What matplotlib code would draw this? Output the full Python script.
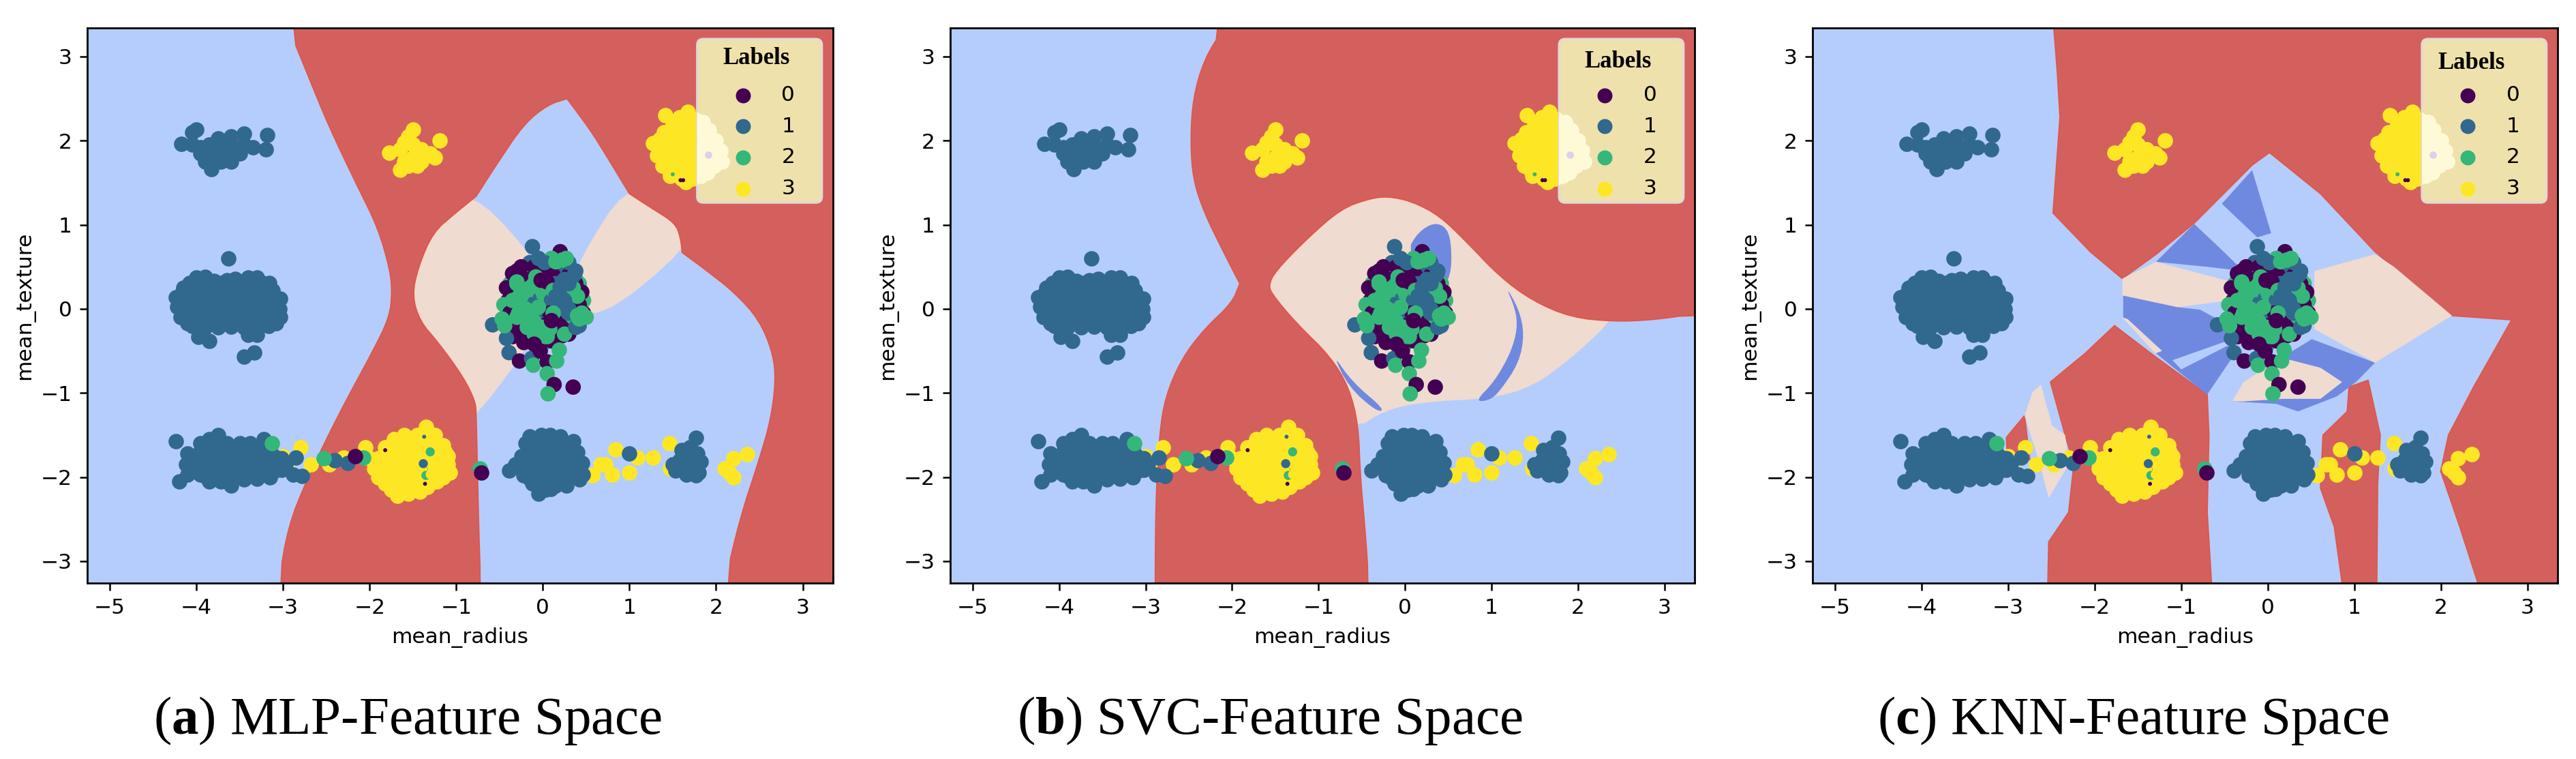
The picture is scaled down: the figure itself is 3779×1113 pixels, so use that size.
import numpy as np
import matplotlib
matplotlib.use("Agg")
import matplotlib.pyplot as plt
from matplotlib.patches import FancyBboxPatch, Polygon

plt.rcParams["mathtext.fontset"] = "custom"
plt.rcParams["mathtext.rm"] = "Liberation Serif"
plt.rcParams["mathtext.bf"] = "Liberation Serif:bold"

BLUE_BG = "#b4cdfc"
RED = "#d4605e"
RED_EDGE = "#e0574b"
CREAM = "#efdbd0"
DARK = "#7089e0"
CLASS_COLORS = ["#440154", "#31688e", "#35b779", "#fde725"]

# class 1 clusters
blue_pts = [
    (-4.05, 2.1), (-4.0, 2.13), (-4.17, 1.96), (-4.05, 1.95), (-3.95, 1.92), (-3.85, 1.95), (-3.75, 2.03),
    (-3.6, 2.05), (-3.45, 2.08), (-3.18, 2.07), (-3.2, 1.9), (-3.35, 1.92), (-3.45, 1.95), (-3.55, 1.9),
    (-3.65, 1.85), (-3.75, 1.85), (-3.85, 1.83), (-3.9, 1.75), (-3.83, 1.66), (-3.72, 1.75), (-3.6, 1.75),
    (-3.5, 1.85), (-3.7, 1.95), (-3.95, 1.85),
    # middle left blob
    (-3.63, 0.6), (-3.45, -0.57), (-3.33, -0.52), (-3.85, -0.38), (-3.98, -0.33), (-3.4, -0.31), (-3.3, -0.31),
    (-4.0, 0.37), (-3.9, 0.38), (-3.8, 0.33), (-3.65, 0.34), (-3.55, 0.36), (-3.4, 0.37), (-3.3, 0.37),
    (-4.15, 0.25), (-4.05, 0.25), (-3.9, 0.25), (-3.75, 0.25), (-3.6, 0.25), (-3.45, 0.25), (-3.3, 0.25), (-3.2, 0.25), (-3.12, 0.22),
    (-4.24, 0.14), (-4.1, 0.12), (-3.95, 0.12), (-3.8, 0.12), (-3.65, 0.12), (-3.5, 0.12), (-3.35, 0.12), (-3.2, 0.12), (-3.03, 0.12),
    (-4.22, 0.02), (-4.08, 0.0), (-3.93, 0.0), (-3.78, 0.0), (-3.63, 0.0), (-3.48, 0.0), (-3.33, 0.0), (-3.18, 0.0), (-3.04, 0.0),
    (-4.18, -0.1), (-4.03, -0.12), (-3.88, -0.12), (-3.73, -0.12), (-3.58, -0.12), (-3.43, -0.12), (-3.28, -0.12), (-3.13, -0.12), (-3.03, -0.1),
    (-4.05, -0.2), (-3.9, -0.22), (-3.75, -0.22), (-3.6, -0.21), (-3.45, -0.22), (-3.3, -0.22), (-3.17, -0.2),
    (-4.08, 0.31), (-3.96, 0.31), (-3.84, 0.31), (-3.72, 0.31), (-3.6, 0.31), (-3.48, 0.31), (-3.36, 0.31), (-3.24, 0.31), (-3.16, 0.31),
    (-4.17, 0.18), (-4.02, 0.18), (-3.87, 0.18), (-3.72, 0.18), (-3.57, 0.18), (-3.42, 0.18), (-3.27, 0.18), (-3.12, 0.18),
    (-4.17, 0.06), (-4.02, 0.06), (-3.87, 0.06), (-3.72, 0.06), (-3.57, 0.06), (-3.42, 0.06), (-3.27, 0.06), (-3.12, 0.06),
    (-4.13, -0.06), (-3.98, -0.06), (-3.83, -0.06), (-3.68, -0.06), (-3.53, -0.06), (-3.38, -0.06), (-3.23, -0.06), (-3.08, -0.06),
    (-4.1, -0.17), (-3.95, -0.17), (-3.8, -0.17), (-3.65, -0.17), (-3.5, -0.17), (-3.35, -0.17), (-3.2, -0.17), (-3.08, -0.17),
    # bottom left blob
    (-4.24, -1.57), (-4.2, -2.05), (-4.1, -1.72), (-4.12, -1.85), (-4.1, -1.97),
    (-3.95, -1.6), (-3.85, -1.55), (-3.75, -1.5), (-3.65, -1.6), (-3.5, -1.6), (-3.38, -1.6), (-3.22, -1.55),
    (-3.97, -1.72), (-3.82, -1.72), (-3.67, -1.72), (-3.52, -1.72), (-3.37, -1.72), (-3.22, -1.72), (-3.1, -1.75),
    (-3.97, -1.85), (-3.82, -1.85), (-3.67, -1.85), (-3.52, -1.85), (-3.37, -1.85), (-3.22, -1.85), (-3.07, -1.85), (-2.97, -1.85),
    (-3.95, -1.97), (-3.8, -1.97), (-3.65, -1.97), (-3.5, -1.97), (-3.37, -1.97), (-3.22, -1.97), (-3.1, -1.93),
    (-3.85, -2.05), (-3.72, -2.05), (-3.6, -2.1), (-3.45, -2.03), (-3.3, -2.02),
    (-3.9, -1.66), (-3.75, -1.66), (-3.6, -1.66), (-3.45, -1.66), (-3.3, -1.66), (-3.15, -1.66),
    (-4.05, -1.78), (-3.9, -1.78), (-3.75, -1.78), (-3.6, -1.78), (-3.45, -1.78), (-3.3, -1.78), (-3.15, -1.78), (-3.02, -1.78),
    (-4.03, -1.91), (-3.88, -1.91), (-3.73, -1.91), (-3.58, -1.91), (-3.43, -1.91), (-3.29, -1.91), (-3.15, -1.91), (-3.02, -1.91),
    (-3.88, -2.0), (-3.73, -2.0), (-3.58, -2.0), (-3.43, -2.0), (-3.29, -2.0), (-3.15, -2.0),
    (-2.85, -1.77), (-2.88, -1.97), (-2.78, -1.99), (-2.4, -1.8), (-2.25, -1.83),
    # bottom centre blob
    (-0.39, -1.92), (-0.25, -1.75), (-0.2, -1.6), (-0.15, -1.52), (-0.02, -1.5), (0.08, -1.5), (0.2, -1.52), (0.35, -1.57),
    (-0.2, -1.75), (-0.05, -1.65), (0.1, -1.65), (0.25, -1.65), (0.4, -1.7), (0.45, -1.83), (0.46, -1.97),
    (-0.25, -1.88), (-0.1, -1.8), (0.05, -1.8), (0.2, -1.8), (0.33, -1.82),
    (-0.22, -1.98), (-0.08, -1.95), (0.07, -1.95), (0.2, -1.95), (0.33, -1.97), (0.42, -2.03),
    (-0.12, -2.08), (0.02, -2.08), (0.15, -2.1), (0.27, -2.1), (-0.05, -2.2), (0.03, -2.15),
    (-0.12, -1.6), (0.02, -1.6), (0.17, -1.6), (0.3, -1.6), (-0.12, -1.73), (0.03, -1.73), (0.18, -1.73), (0.33, -1.73),
    (-0.32, -1.85), (-0.17, -1.85), (-0.02, -1.88), (0.12, -1.88), (0.27, -1.88), (0.4, -1.9), (-0.15, -2.02), (0.0, -2.02),
    (0.14, -2.02), (0.27, -2.02), (0.4, -1.96), (-0.05, -2.12), (0.09, -2.14), (0.21, -2.03),
    # right small blob
    (1.0, -1.72), (1.77, -1.53), (1.5, -1.85), (1.53, -1.92), (1.6, -1.68), (1.7, -1.65), (1.78, -1.72),
    (1.58, -1.8), (1.7, -1.8), (1.82, -1.82), (1.6, -1.9), (1.72, -1.92), (1.8, -1.95), (1.66, -1.97), (1.77, -1.98),
    (1.64, -1.74), (1.76, -1.86), (1.66, -1.86),
]

# class 3 clusters
yellow_pts = [
    (-1.65, 1.65), (-1.77, 1.86), (-1.65, 1.9), (-1.55, 2.05), (-1.5, 2.13), (-1.5, 1.95), (-1.5, 1.8), (-1.6, 1.75),
    (-1.4, 1.9), (-1.4, 1.75), (-1.3, 1.85), (-1.25, 1.8), (-1.19, 2.0), (-1.45, 1.7), (-1.55, 1.7), (-1.6, 1.98),
    # top right blob
    (1.41, 2.3), (1.67, 2.34), (1.58, 2.28), (1.75, 2.25), (1.85, 2.22), (1.92, 2.12), (2.0, 2.0), (2.05, 1.88), (2.07, 1.75),
    (1.5, 2.2), (1.65, 2.17), (1.8, 2.1), (1.9, 2.0), (1.4, 2.1), (1.55, 2.05), (1.7, 2.0), (1.85, 1.9), (1.97, 1.8),
    (1.3, 1.95), (1.27, 1.97), (1.45, 1.95), (1.6, 1.88), (1.75, 1.85), (1.9, 1.72),
    (1.32, 1.82), (1.47, 1.8), (1.62, 1.75), (1.77, 1.72), (1.9, 1.62), (1.38, 1.7), (1.52, 1.65), (1.67, 1.62), (1.82, 1.58),
    (1.47, 1.58), (1.6, 1.55), (1.73, 1.55), (1.65, 1.51),
    (1.47, 2.12), (1.6, 2.12), (1.72, 2.1), (1.35, 2.02), (1.48, 2.0), (1.62, 1.98), (1.77, 1.97), (1.95, 1.92), (1.37, 1.9),
    (1.52, 1.88), (1.67, 1.83), (1.82, 1.8), (1.98, 1.7), (1.4, 1.77), (1.55, 1.72), (1.7, 1.68), (1.85, 1.67), (1.45, 1.65),
    (1.6, 1.62), (1.74, 1.62), (1.6, 2.22), (1.72, 2.18),
    # bottom centre blob
    (-1.35, -1.4), (-1.45, -1.5), (-1.6, -1.5), (-1.72, -1.55), (-1.25, -1.5), (-1.15, -1.62), (-1.1, -1.75),
    (-1.82, -1.65), (-1.65, -1.62), (-1.5, -1.62), (-1.35, -1.6), (-1.2, -1.75), (-1.9, -1.78), (-1.75, -1.75), (-1.6, -1.75), (-1.45, -1.75),
    (-1.95, -1.9), (-1.8, -1.87), (-1.65, -1.87), (-1.5, -1.87), (-1.25, -1.87), (-1.1, -1.85), (-1.07, -1.95),
    (-1.9, -2.0), (-1.75, -2.0), (-1.6, -2.0), (-1.45, -2.0), (-1.3, -2.0), (-1.15, -2.0),
    (-1.82, -2.08), (-1.68, -2.1), (-1.55, -2.1), (-1.4, -2.1), (-1.25, -2.05), (-1.68, -2.22), (-1.55, -2.2), (-1.42, -2.17),
    (-1.55, -1.55), (-1.4, -1.52), (-1.28, -1.6), (-1.75, -1.68), (-1.58, -1.68), (-1.42, -1.67), (-1.27, -1.68), (-1.13, -1.7),
    (-1.85, -1.8), (-1.68, -1.8), (-1.52, -1.8), (-1.3, -1.8), (-1.15, -1.8), (-1.88, -1.93), (-1.72, -1.93), (-1.57, -1.93),
    (-1.42, -1.93), (-1.2, -1.93), (-1.83, -2.03), (-1.68, -2.04), (-1.52, -2.05), (-1.37, -2.05), (-1.22, -2.05),
    (-1.75, -2.15), (-1.62, -2.16), (-1.48, -2.14), (-1.33, -2.12),
    # strays along the bottom row
    (-2.8, -1.65), (-2.68, -1.85), (-2.47, -1.85), (-2.3, -1.77), (-3.0, -1.75), (-2.95, -1.9), (-2.05, -1.65), (-2.0, -1.78),
    (0.57, -1.98), (0.67, -1.85), (0.72, -1.85), (0.8, -1.97), (0.84, -1.67), (1.0, -1.95), (1.09, -1.77), (1.27, -1.77),
    (1.46, -1.6), (1.47, -1.9), (2.1, -1.9), (2.15, -1.95), (2.2, -2.0), (2.2, -1.78), (2.36, -1.73),
]

green_pts = [(-3.13, -1.6), (-2.53, -1.78), (-2.07, -1.77), (-0.73, -1.9)]
dark_pts = [(-2.17, -1.75), (-0.71, -1.95)]

# mixed middle cluster, lower layer, middle layer, top layer
under_x = [-0.4, -0.38, -0.3, -0.15, 0.1, 0.25, 0.38, 0.42, 0.47, 0.47, 0.42, 0.3, 0.15, 0.0, -0.12, -0.28, -0.4, -0.45, -0.3,
           -0.18, -0.02, 0.12, 0.28, -0.25, -0.1, 0.05, 0.2, 0.12, -0.05, -0.2, -0.1, 0.3, 0.35, -0.08, 0.0, 0.1, 0.22, -0.22]
under_y = [0.1, 0.3, 0.45, 0.55, 0.5, 0.5, 0.35, 0.3, 0.1, -0.05, -0.2, -0.15, -0.32, -0.4, -0.38, -0.28, -0.15, 0.05, 0.2,
           0.35, 0.42, 0.4, 0.25, 0.02, 0.12, 0.02, -0.08, -0.15, -0.1, -0.1, -0.22, 0.12, -0.02, 0.18, -0.42, -0.38, -0.32, -0.4]
under_label = [0, 2, 0, 1, 2, 1, 1, 2, 2, 0, 1, 0, 2, 0, 2, 0, 2, 2, 2,
               0, 2, 0, 2, 2, 2, 2, 2, 0, 2, 2, 2, 1, 1, 1, 2, 0, 0, 0]
center_x = [-0.42, -0.35, -0.25, -0.1, 0.0, 0.2, 0.05, -0.38, -0.3, -0.35, -0.2, 0.0, 0.1, 0.2, 0.3, 0.42, 0.45, 0.38, 0.3,
            -0.3, -0.35, -0.28, -0.15, -0.05, -0.1, -0.2, -0.15, 0.0, -0.05, 0.35, 0.45, 0.5, 0.1, 0.4, 0.35, 0.25, -0.1, 0.05,
            -0.05, 0.02, 0.3, 0.38, 0.25, 0.15, 0.2, 0.1, 0.25, 0.3, -0.05, -0.12,
            -0.05, 0.05, 0.08, 0.0, 0.15, 0.12, 0.3, 0.22, -0.42, 0.38,
            -0.12, -0.58, -0.47, -0.44, -0.39, -0.27, -0.13, -0.11, -0.1, -0.03, 0.05, 0.19, 0.16, 0.05, 0.13, 0.35, 0.06, 0.22, 0.42]
center_y = [0.25, 0.42, 0.5, 0.5, 0.5, 0.68, 0.35, -0.05, -0.2, -0.33, -0.3, -0.3, -0.25, -0.2, -0.3, 0.05, 0.2, 0.3, 0.4,
            0.3, 0.1, -0.05, -0.18, -0.2, 0.3, 0.15, 0.0, 0.2, 0.05, -0.1, -0.05, -0.1, 0.6, 0.15, 0.25, -0.3, -0.3, -0.33,
            0.6, 0.55, 0.55, 0.45, 0.35, 0.3, 0.15, 0.1, 0.08, 0.0, -0.15, 0.05,
            0.35, 0.32, -0.05, -0.2, -0.15, 0.22, -0.05, 0.02, -0.35, -0.22,
            0.74, -0.19, -0.12, -0.2, -0.52, -0.62, -0.59, -0.67, -0.42, -0.5, -0.63, -0.49, -0.62, -0.77, -0.9, -0.93, -1.01, 0.58, -0.12]
center_label = [0, 0, 0, 0, 0, 0, 0, 0, 0, 0, 0, 0, 0, 0, 0, 0, 0, 0, 0,
                2, 2, 2, 2, 2, 2, 2, 2, 2, 2, 2, 2, 2, 2, 2, 2, 2, 2, 2,
                1, 1, 1, 1, 1, 1, 1, 1, 1, 1, 1, 1,
                0, 0, 0, 0, 0, 2, 1, 1, 1, 1,
                1, 1, 2, 2, 1, 0, 1, 2, 0, 0, 0, 2, 2, 2, 0, 0, 2, 2, 2]
top_x = [-0.25, -0.2, -0.3, -0.1, -0.15, -0.3, 0.0, -0.05, 0.12, 0.4, 0.15, 0.27, -0.18, -0.28, -0.08, 0.08,
         0.15, 0.25, 0.2, 0.3, -0.02, 0.1, 0.36]
top_y = [0.15, 0.0, -0.1, -0.15, 0.25, 0.32, -0.22, 0.02, -0.05, -0.08, 0.56, 0.6, -0.22, 0.1, 0.38, -0.24,
         0.15, 0.1, 0.26, 0.3, 0.34, -0.14, 0.4]
top_label = [2, 2, 2, 2, 2, 2, 2, 2, 2, 2, 2, 2, 2, 2, 2, 2,
             1, 1, 1, 1, 0, 0, 1]

# small specks showing through the yellow blobs
fleck_x = [-1.38, -1.35, -1.3, -1.3, -1.42]
fleck_y = [-1.84, -1.98, -1.7, -1.97, -1.72]
fleck_label = [1, 2, 2, 3, 3]
speck_x = [1.59, 1.62, 1.5, -1.82, -1.37, -1.36]
speck_y = [1.53, 1.53, 1.6, -1.68, -1.52, -2.08]
speck_label = [0, 0, 2, 0, 1, 0]

# decision regions, data coordinates
mlp_red = [(-2.93, 8), (-2.93, 3.33), (-2.72, 2.8), (-2.47, 2.17), (-2.15, 1.48), (-1.9, 0.96), (-1.76, 0.45), (-1.74, 0.19),
           (-1.77, -0.1), (-1.96, -0.5), (-2.34, -1.22), (-2.72, -2.02), (-2.94, -2.59), (-3.05, -3.26), (-3.06, -8),
           (-0.72, -8), (-0.72, -3.26), (-0.74, -2.65), (-0.76, -1.73), (-0.77, -1.27), (-0.78, -1.1), (-0.92, -0.81),
           (-1.2, -0.41), (-1.42, -0.15), (-1.51, 0.16), (-1.44, 0.5), (-1.27, 0.91), (-1.01, 1.14), (-0.77, 1.34), (-0.77, 1.34),
           (-0.54, 1.71), (-0.22, 2.2), (0.06, 2.43), (0.28, 2.5), (0.28, 2.5), (0.54, 2.14), (0.7, 1.88), (1.0, 1.37), (1.0, 1.37), (1.27, 1.19),
           (1.53, 1.02), (1.59, 0.85), (1.61, 0.67), (1.61, 0.67), (1.9, 0.45), (2.22, 0.19), (2.5, -0.13), (2.66, -0.53), (2.69, -0.87),
           (2.63, -1.33), (2.5, -1.79), (2.28, -2.48), (2.1, -3.26), (2.08, -8), (9, -8), (9, 8)]
mlp_cream_left = [(-0.85, 1.42), (-0.19, 0.73), (0.0, 0.3), (-0.1, -0.3), (-0.32, -0.67), (-0.77, -1.27), (-0.9, -1.3), (-1.3, -0.6),
                  (-1.62, 0.1), (-1.55, 0.6), (-1.2, 1.1)]
mlp_cream_right = [(0.95, 1.45), (1.3, 1.3), (1.65, 1.1), (1.72, 0.76), (0.6, -0.18), (0.3, 0.2), (0.44, 0.62)]

svc_red = [(-2.1, 8), (-2.1, 3.33), (-2.32, 2.97), (-2.45, 2.51), (-2.48, 2.0), (-2.45, 1.54), (-2.32, 1.14), (-2.1, 0.68), (-1.91, 0.3), (-1.91, 0.3),
           (-2.0, 0.07), (-2.32, -0.24), (-2.58, -0.59), (-2.77, -1.04), (-2.84, -1.5), (-2.88, -2.25), (-2.89, -3.26), (-2.89, -8),
           (-0.42, -8), (-0.42, -3.26), (-0.46, -2.65), (-0.52, -1.96), (-0.54, -1.38), (-0.65, -0.93), (-0.87, -0.56), (-1.25, -0.18),
           (-1.53, 0.16), (-1.58, 0.28), (-1.5, 0.45), (-1.12, 0.85), (-0.74, 1.19), (-0.42, 1.31), (-0.2, 1.34), (0.08, 1.28), (0.4, 1.11),
           (0.72, 0.79), (1.09, 0.39), (1.47, 0.1), (1.92, -0.1), (2.42, -0.15), (2.87, -0.13), (3.35, -0.06), (9, 0.0), (9, 8)]
svc_cream = [(-0.6, -1.45), (-0.75, -0.9), (-1.3, -0.1), (-1.7, 0.25), (-1.3, 0.85), (-0.8, 1.3), (-0.2, 1.5), (0.5, 1.2), (1.15, 0.5),
             (1.9, 0.05), (2.4, -0.05), (2.35, -0.18), (1.92, -0.59), (1.47, -0.93), (0.97, -1.07), (0.27, -1.1), (-0.23, -1.2)]
svc_dark_top = [(0.02, 0.68), (0.15, 0.91), (0.34, 1.03), (0.49, 0.96), (0.54, 0.73), (0.53, 0.39), (0.4, 0.2)]
svc_dark_right = [(1.16, 0.28), (1.32, -0.01), (1.38, -0.3), (1.32, -0.64), (1.09, -0.99), (0.97, -1.09), (0.81, -1.1), (1.03, -0.87),
                  (1.22, -0.53), (1.3, -0.24), (1.28, -0.01)]
svc_dark_left = [(-0.84, -0.53), (-0.61, -0.87), (-0.23, -1.2), (-0.33, -1.22), (-0.65, -0.93)]

knn_red_top = [(-2.47, 3.5), (-2.47, 3.33), (-2.43, 2.8), (-2.4, 2.28), (-2.48, 1.14), (-2.05, 0.68), (-1.68, 0.36), (-1.29, 0.65),
               (-0.85, 1.02), (-0.18, 1.71), (0.02, 1.86), (0.61, 1.37), (1.24, 0.68), (2.13, -0.08), (2.82, -0.13), (2.38, -0.93),
               (2.09, -1.5), (2.0, -1.93), (2.22, -2.59), (2.43, -3.26), (2.47, -3.4), (3.5, -3.4), (3.5, 3.5)]
knn_red_left = [(-2.54, -3.4), (-2.54, -3.26), (-2.53, -2.77), (-2.3, -2.42), (-2.24, -1.85), (-2.34, -1.5), (-2.51, -0.87), (-2.11, -0.53),
                (-1.77, -0.2), (-1.35, -0.53), (-0.7, -1.02), (-0.68, -1.5), (-0.7, -2.42), (-0.65, -3.26), (-0.65, -3.4)]
knn_red_small = [(-3.02, -1.53), (-2.81, -1.27), (-2.75, -1.79), (-3.0, -1.88)]
knn_red_mid = [(0.86, -3.4), (0.86, -3.26), (0.77, -2.59), (0.61, -2.13), (0.64, -1.5), (0.92, -1.22), (0.94, -0.93), (1.16, -0.85),
               (1.3, -1.5), (1.27, -2.08), (1.26, -3.26), (1.26, -3.4)]
knn_dark_a = [(-1.29, 0.56), (-0.85, 1.01), (-0.56, 0.73), (-0.28, 0.45), (-0.7, 0.5)]
knn_dark_b = [(-0.53, 1.25), (-0.18, 1.65), (0.04, 0.9), (-0.12, 0.85)]
knn_dark_c = [(-1.67, 0.16), (-1.67, -0.1), (-1.29, -0.53), (-0.7, -1.02), (-0.41, -0.58), (-0.37, -0.24), (-0.78, -0.01), (-1.04, 0.02), (-0.66, 0.1)]
knn_dark_d = [(0.51, -0.36), (1.24, -0.64), (1.02, -0.87), (0.8, -1.04), (0.35, -1.22), (0.1, -1.13), (-0.41, -1.1), (0.16, -0.58)]
knn_light_a = [(-1.1, -0.61), (-0.41, -0.36), (-0.43, -0.42), (-1.0, -0.72)]
knn_cream_a = [(-1.68, 0.36), (-1.29, 0.56), (-0.34, 0.3), (-0.44, 0.1), (-1.04, 0.02), (-1.68, 0.16)]
knn_cream_b = [(0.54, 0.45), (1.24, 0.65), (1.46, 0.5), (2.13, -0.08), (1.24, -0.64), (0.54, -0.24)]
knn_cream_c = [(-0.41, -1.1), (-0.28, -0.87), (0.16, -0.58), (0.61, -0.7), (0.86, -0.87), (0.61, -1.07), (0.16, -1.07), (-0.28, -1.1)]
knn_cream_d = [(-2.62, -0.9), (-2.49, -1.39), (-2.34, -1.5), (-2.3, -1.85), (-2.53, -2.25), (-2.65, -1.79), (-2.81, -1.27), (-2.72, -0.99)]
knn_cream_e = [(-1.68, -0.1), (-1.62, -0.12), (-1.22, -0.5), (-1.3, -0.53)]

xticks = [-5, -4, -3, -2, -1, 0, 1, 2, 3]
yticks = [-3, -2, -1, 0, 1, 2, 3]
labels = ["0", "1", "2", "3"]

panels = [
    {"left": 128, "right": 1222, "cap": "a", "name": "MLP", "cap_x": 598, "title_off": (9, 6), "smooth": True,
     "regions": [(mlp_cream_left, CREAM), (mlp_cream_right, CREAM), (mlp_red, RED)]},
    {"left": 1394, "right": 2486, "cap": "b", "name": "SVC", "cap_x": 1863, "title_off": (8, 1), "smooth": True,
     "regions": [(svc_cream, CREAM), (svc_dark_top, DARK), (svc_dark_right, DARK), (svc_dark_left, DARK), (svc_red, RED)]},
    {"left": 2659, "right": 3752, "cap": "c", "name": "KNN", "cap_x": 3129, "title_off": (-5, -1), "smooth": False,
     "regions": [(knn_red_top, RED), (knn_red_left, RED), (knn_red_small, RED), (knn_red_mid, RED),
                 (knn_dark_a, DARK), (knn_dark_b, DARK), (knn_dark_c, DARK), (knn_dark_d, DARK), (knn_light_a, BLUE_BG),
                 (knn_cream_a, CREAM), (knn_cream_b, CREAM), (knn_cream_c, CREAM), (knn_cream_d, CREAM), (knn_cream_e, CREAM)]},
]

W, H = 3779, 1113
fig = plt.figure(figsize=(W / 100, H / 100), dpi=100)
MS = 265


def xy(pts):
    a = np.array(pts)
    return a[:, 0], a[:, 1]


def round_corners(verts, passes=2):
    # corner cutting, so the read-off outline draws as a curve
    v = np.array(verts, dtype=float)
    for _ in range(passes):
        nxt = np.roll(v, -1, axis=0)
        v = np.column_stack([0.75 * v + 0.25 * nxt, 0.25 * v + 0.75 * nxt]).reshape(-1, 2)
    return v


for p in panels:
    ax = fig.add_axes([p["left"] / W, 1 - 855 / H, (p["right"] - p["left"]) / W, (855 - 41) / H])
    ax.set_facecolor(BLUE_BG)

    for verts, col in p["regions"]:
        edge = RED_EDGE if col == RED else "none"
        shape = round_corners(verts) if p["smooth"] else verts
        ax.add_patch(Polygon(shape, closed=True, facecolor=col, edgecolor=edge, linewidth=1.5, zorder=1))

    yx, yy = xy(yellow_pts)
    ax.scatter(yx, yy, s=MS, color=CLASS_COLORS[3], linewidths=0, zorder=2)
    bx, by = xy(blue_pts)
    ax.scatter(bx, by, s=MS, color=CLASS_COLORS[1], linewidths=0, zorder=2)
    gx, gy = xy(green_pts)
    ax.scatter(gx, gy, s=MS, color=CLASS_COLORS[2], linewidths=0, zorder=2)
    dx, dy = xy(dark_pts)
    ax.scatter(dx, dy, s=MS, color=CLASS_COLORS[0], linewidths=0, zorder=2)
    ax.scatter(under_x, under_y, s=MS, color=[CLASS_COLORS[i] for i in under_label], linewidths=0, zorder=3)
    ax.scatter(center_x, center_y, s=MS, color=[CLASS_COLORS[i] for i in center_label], linewidths=0, zorder=3)
    ax.scatter(top_x, top_y, s=MS, color=[CLASS_COLORS[i] for i in top_label], linewidths=0, zorder=3)
    ax.scatter(fleck_x, fleck_y, s=MS * 0.35, color=[CLASS_COLORS[i] for i in fleck_label], linewidths=0, zorder=3)
    ax.scatter(speck_x, speck_y, s=18, color=[CLASS_COLORS[i] for i in speck_label], linewidths=0, zorder=3)

    ax.set_xlim(-5.26, 3.35)
    ax.set_ylim(-3.26, 3.34)
    ax.set_xticks(xticks)
    ax.set_yticks(yticks)
    ax.tick_params(labelsize=22.5, length=8, width=1.8, pad=8)
    for s in ax.spines.values():
        s.set_linewidth(2)
        s.set_zorder(10)
    ax.set_xlabel("mean_radius", fontsize=22.5, labelpad=10)
    ax.set_ylabel("mean_texture", fontsize=22.5, labelpad=6)

    # legend box sits over the points and washes them out
    frame = FancyBboxPatch((0.818, 0.6855), 0.167, 0.2945, boxstyle="round,pad=0,rounding_size=0.008",
                           transform=ax.transAxes, mutation_aspect=1094 / 814,
                           facecolor="#eee1ac", edgecolor="#e3d9d2", linewidth=2.5, zorder=5)
    ax.add_patch(frame)
    wash = ax.scatter(yx, yy, s=MS, color="#fefad8", linewidths=0, zorder=6)
    wash.set_clip_path(frame)
    ax.scatter([1.91], [1.83], s=60, color="#d9d2e8", linewidths=0, zorder=6)

    handles = [ax.scatter([], [], s=250, color=c, linewidths=0) for c in CLASS_COLORS]
    leg = ax.legend(handles, labels, title="Labels", loc="upper left", bbox_to_anchor=(0.818, 0.973), borderaxespad=0,
                    frameon=False, fontsize=22.5, borderpad=0.4, handlelength=3.5, handletextpad=0.05, labelspacing=0.53,
                    title_fontproperties={"family": "Liberation Serif", "weight": "bold", "size": 25})
    leg.set_zorder(7)
    leg.get_title().set_position(p["title_off"])

    fig.text(p["cap_x"] / W, 1 - 1057 / H, r"($\mathbf{%s}$) %s-Feature Space" % (p["cap"], p["name"]),
             family="Liberation Serif", fontsize=57, ha="center", va="center")

fig.savefig("out.png", dpi=100)
